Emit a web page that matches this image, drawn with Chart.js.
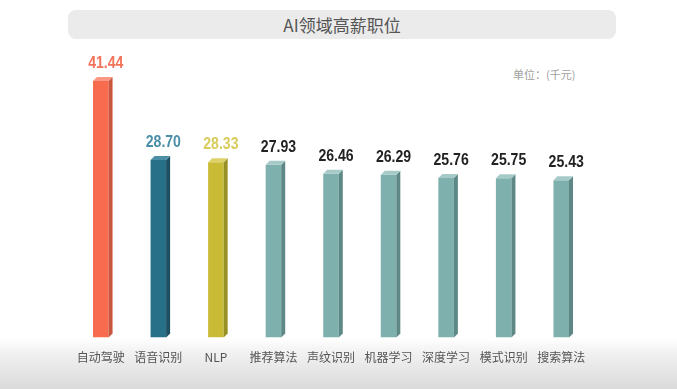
<!DOCTYPE html>
<html>
<head>
<meta charset="utf-8">
<script src="https://cdn.jsdelivr.net/npm/chart.js@4"></script>
<style>
  html, body { margin: 0; padding: 0; }
  body {
    width: 677px; height: 389px; overflow: hidden; position: relative;
    background: linear-gradient(to bottom, #ffffff 0px, #ffffff 338px, #f2f2f2 352px, #dadada 389px);
    font-family: "Noto Sans CJK SC", "Noto Sans", sans-serif;
  }
  #titleBox {
    position: absolute; left: 68px; top: 10px; width: 548px; height: 29px;
    background: #ebebeb; border-radius: 8px;
    text-align: center; line-height: 29px; font-size: 17px; color: #555;
  }
  #unit {
    position: absolute; left: 513px; top: 66px; font-size: 11px; color: #a0a0a0;
  }
  #salaryChart { position: absolute; left: 0; top: 0; }
</style>
</head>
<body>
<div id="titleBox">AI领域高薪职位</div>
<div id="unit">单位：(千元)</div>
<canvas id="salaryChart" width="677" height="389"></canvas>
<script>
const jobs = ['自动驾驶', '语音识别', 'NLP', '推荐算法', '声纹识别', '机器学习', '深度学习', '模式识别', '搜索算法'];
const salaries = [41.44, 28.70, 28.33, 27.93, 26.46, 26.29, 25.76, 25.75, 25.43];
const barColors = ['#f86b4e', '#286f88', '#c9bb35', '#7eb0ae', '#7eb0ae', '#7eb0ae', '#7eb0ae', '#7eb0ae', '#7eb0ae'];
const sideColors = ['#c9553d', '#1c4f62', '#999024', '#5e8886', '#5e8886', '#5e8886', '#5e8886', '#5e8886', '#5e8886'];
const topColors = ['#fb9882', '#4b8ea6', '#ddd267', '#a6cac8', '#a6cac8', '#a6cac8', '#a6cac8', '#a6cac8', '#a6cac8'];
const labelColors = ['#f2735a', '#4a8ea8', '#d8cc5c', '#222222', '#222222', '#222222', '#222222', '#222222', '#222222'];

// fake 3d: side and top faces on each bar, plus the value above
const depthPlugin = {
    id: 'depth',
    afterDatasetsDraw(chart) {
        const ctx = chart.ctx;
        const meta = chart.getDatasetMeta(0);
        const d = 4;
        meta.data.forEach((bar, i) => {
            const left = bar.x - bar.width / 2;
            const right = bar.x + bar.width / 2;
            ctx.save();
            ctx.fillStyle = sideColors[i];
            ctx.beginPath();
            ctx.moveTo(right, bar.y);
            ctx.lineTo(right + d, bar.y - d);
            ctx.lineTo(right + d, bar.base - d);
            ctx.lineTo(right, bar.base);
            ctx.closePath();
            ctx.fill();
            ctx.fillStyle = topColors[i];
            ctx.beginPath();
            ctx.moveTo(left, bar.y);
            ctx.lineTo(left + d, bar.y - d);
            ctx.lineTo(right + d, bar.y - d);
            ctx.lineTo(right, bar.y);
            ctx.closePath();
            ctx.fill();

            ctx.fillStyle = labelColors[i];
            ctx.font = 'bold 16px "Liberation Sans", sans-serif';
            ctx.textAlign = 'center';
            ctx.textBaseline = 'alphabetic';
            ctx.translate(bar.x + 5, bar.y - d - 9);
            ctx.scale(0.88, 1);
            ctx.fillText(salaries[i].toFixed(2), 0, 0);
            ctx.restore();
        });
    }
};

let salaryChart = new Chart(document.getElementById('salaryChart'), {
    type: 'bar',
    data: {
        labels: jobs,
        datasets: [{
            data: salaries,
            backgroundColor: barColors,
            borderWidth: 0,
            categoryPercentage: 1,
            barPercentage: 0.27
        }]
    },
    options: {
        responsive: false,
        animation: false,
        devicePixelRatio: 1,
        layout: { padding: { left: 72, right: 87, top: 59, bottom: 19 } },
        plugins: { legend: { display: false }, tooltip: { enabled: false } },
        scales: {
            x: {
                grid: { display: false },
                border: { display: false },
                ticks: {
                    color: '#555',
                    font: { size: 12, family: '"Noto Sans CJK SC", sans-serif' },
                    padding: 5,
                    maxRotation: 0,
                    autoSkip: false
                }
            },
            y: {
                display: false,
                min: 0,
                max: 45
            }
        }
    },
    plugins: [depthPlugin]
});
</script>
</body>
</html>
